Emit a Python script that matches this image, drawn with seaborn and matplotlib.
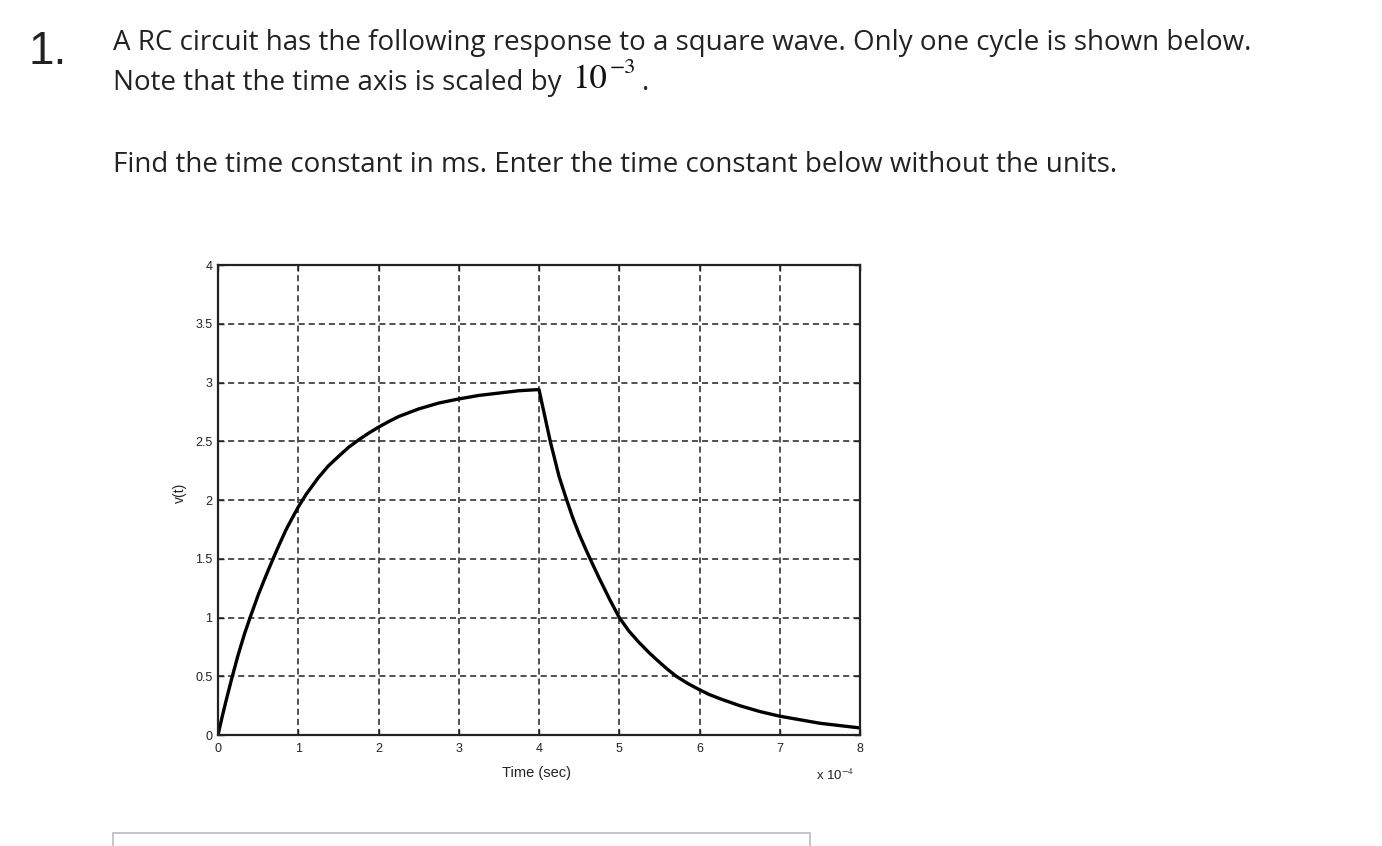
import matplotlib
matplotlib.use("Agg")
import matplotlib.pyplot as plt
from matplotlib.patches import Rectangle
import seaborn as sns

# ---- data (time in units of 1e-4 s, voltage in V) ----
time_rise = [0, 0.05, 0.1, 0.167, 0.25, 0.33, 0.4, 0.5, 0.6, 0.68, 0.75, 0.85, 0.92, 1.0,
             1.1, 1.25, 1.375, 1.5, 1.63, 1.77, 1.88, 2.0, 2.12, 2.25, 2.5, 2.75, 3.0,
             3.25, 3.5, 3.75, 4.0]
volt_rise = [0, 0.15, 0.29, 0.47, 0.68, 0.86, 1.00, 1.19, 1.36, 1.49, 1.60, 1.75, 1.84, 1.94,
             2.05, 2.19, 2.29, 2.37, 2.45, 2.52, 2.57, 2.62, 2.665, 2.71, 2.775, 2.825, 2.86,
             2.89, 2.91, 2.93, 2.94]
time_decay = [4.07, 4.14, 4.25, 4.34, 4.42, 4.5, 4.58, 4.65, 4.75, 4.88, 5.0, 5.12, 5.25,
              5.38, 5.5, 5.6, 5.71, 5.85, 6.0, 6.12, 6.25, 6.5, 6.75, 7.0, 7.25, 7.5,
              7.75, 8.0]
volt_decay = [2.72, 2.50, 2.20, 2.01, 1.85, 1.71, 1.585, 1.48, 1.335, 1.155, 1.00, 0.885, 0.785,
              0.695, 0.62, 0.56, 0.50, 0.44, 0.385, 0.345, 0.31, 0.25, 0.20, 0.16, 0.13, 0.10,
              0.08, 0.06]
time_vals = time_rise + time_decay
volt_vals = volt_rise + volt_decay

x_ticks = [0, 1, 2, 3, 4, 5, 6, 7, 8]
y_ticks = [0, 0.5, 1, 1.5, 2, 2.5, 3, 3.5, 4]
y_tick_labels = ["0", "0.5", "1", "1.5", "2", "2.5", "3", "3.5", "4"]

line1 = "A RC circuit has the following response to a square wave. Only one cycle is shown below."
line2 = "Note that the time axis is scaled by"
line3 = "Find the time constant in ms. Enter the time constant below without the units."

sns.set_theme(style="white")
plt.rcParams["font.family"] = ["Open Sans", "DejaVu Sans"]
plt.rcParams["mathtext.fontset"] = "stix"

W, H = 1382, 846
fig = plt.figure(figsize=(W / 100, H / 100), dpi=100)
fig.patch.set_facecolor("white")

def fx(px):
    return px / W

def fy(py):
    return 1 - py / H

# ---- question text ----
fig.text(fx(28), fy(64), "1.", fontsize=33, family=["Liberation Sans"], color="#222222", va="baseline")
fig.text(fx(113), fy(50), line1, fontsize=20, color="#222222", va="baseline")
fig.text(fx(113), fy(90), line2, fontsize=20, color="#222222", va="baseline")
fig.text(fx(572), fy(88), "10", fontsize=25, family=["STIXGeneral"], color="#111111", va="baseline")
fig.text(fx(610), fy(73), "\u22123", fontsize=16, family=["STIXGeneral"], color="#111111", va="baseline")
fig.text(fx(642), fy(90), ".", fontsize=20, color="#222222", va="baseline")
fig.text(fx(113), fy(172), line3, fontsize=20, color="#222222", va="baseline")

# ---- answer box at bottom ----
fig.patches.append(Rectangle((fx(113), fy(860)), fx(810) - fx(113), fy(833) - fy(860),
                             transform=fig.transFigure, fill=False, edgecolor="#bbbbbb", lw=1.2))

# ---- chart ----
ax = fig.add_axes([fx(218), fy(735), fx(860) - fx(218), fy(265) - fy(735)])
sns.lineplot(x=time_vals, y=volt_vals, ax=ax, color="black", lw=2.4, sort=False)
ax.set_xlim(0, 8)
ax.set_ylim(0, 4)
ax.set_xticks(x_ticks)
ax.set_xticklabels([str(t) for t in x_ticks])
ax.set_yticks(y_ticks)
ax.set_yticklabels(y_tick_labels)
ax.grid(True, color="#222222", linestyle=(0, (4, 2.6)), lw=1.1)
for s in ax.spines.values():
    s.set_visible(True)
    s.set_color("#222222")
    s.set_linewidth(1.6)
ax.tick_params(axis="both", direction="in", length=4, width=1, colors="#222222",
               labelsize=9, top=True, right=True, bottom=True, left=True)
ax.tick_params(axis="x", pad=6)
ax.tick_params(axis="y", pad=4)
for lab in ax.get_xticklabels() + ax.get_yticklabels():
    lab.set_family(["Liberation Sans"])
ax.set_xlabel("")
ax.set_ylabel("")

fig.text(fx(537), fy(777), "Time (sec)", fontsize=10.5, family=["Liberation Sans"],
         ha="center", va="baseline", color="#222222")
fig.text(fx(180), fy(493), "v(t)", fontsize=10, family=["Liberation Sans"],
         ha="center", va="center", rotation=90, color="#222222")
fig.text(fx(816), fy(780), r"x 10$^{-4}$", fontsize=9.5, family=["Liberation Sans"],
         ha="left", va="baseline", color="#222222")

fig.savefig("out.png", dpi=100, facecolor="white")
